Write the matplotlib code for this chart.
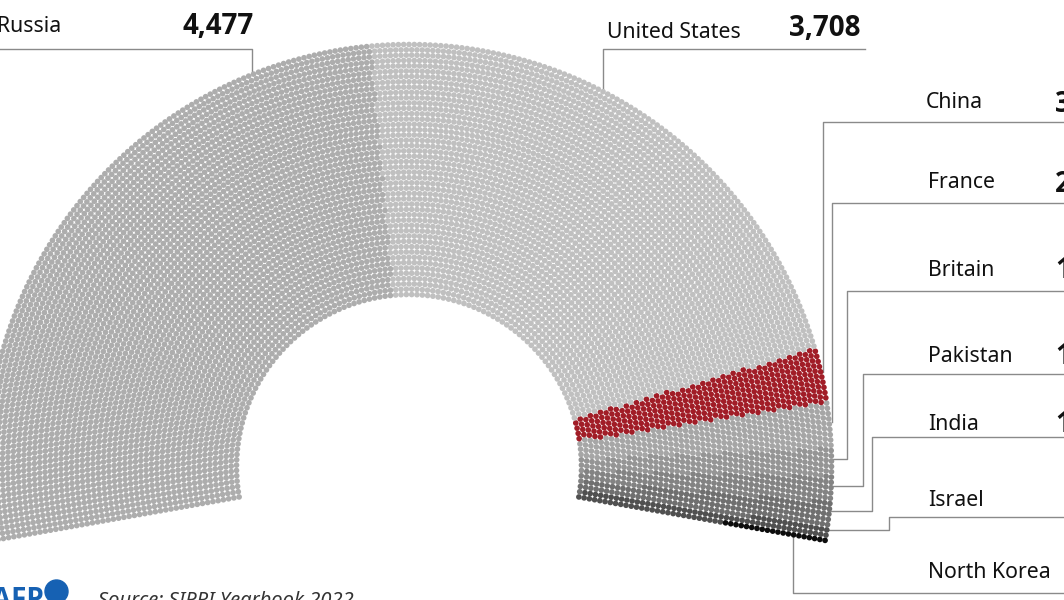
import numpy as np
import matplotlib
matplotlib.use("Agg")
import matplotlib.pyplot as plt
from matplotlib.patches import Circle

# ---- data ----
countries = ["North Korea", "Israel", "India", "Pakistan", "Britain", "France",
             "China", "United States", "Russia"]
warheads = [20, 90, 160, 165, 180, 290, 350, 3708, 4477]
value_labels = ["20", "90", "160", "165", "180", "290", "350", "3,708", "4,477"]
colors = ["#0d0d0d", "#505050", "#6f6f6f", "#838383", "#959595", "#a6a6a6",
          "#a11d27", "#c0c0c0", "#adadad"]
source_text = "Source: SIPRI Yearbook 2022"

# ---- figure ----
W, H = 1064, 600
fig = plt.figure(figsize=(W / 100, H / 100), dpi=100)
ax = fig.add_axes([0, 0, 1, 1])
ax.set_xlim(0, W)
ax.set_ylim(H, 0)
ax.axis("off")

FONT = "Noto Sans"
BFONT = "Open Sans"
plt.rcParams["font.family"] = FONT

# ---- parliament-style dot layout ----
cx, cy = 409, 467
r_in, r_out = 172.5, 422.5
R_edge = 425.0
a0, a1 = np.deg2rad(-10), np.deg2rad(190)
n_rows = 48
N = int(sum(warheads))
radii = np.linspace(r_in, r_out, n_rows)
ideal = N * radii / radii.sum()
counts = np.floor(ideal).astype(int)
rem = N - counts.sum()
counts[np.argsort(-(ideal - counts))[:rem]] += 1

angles, rs = [], []
for r, n in zip(radii, counts):
    angles.append(np.linspace(a0, a1, n))
    rs.append(np.full(n, r))
angles = np.concatenate(angles)
rs = np.concatenate(rs)
order = np.lexsort((-rs, angles))
party = np.repeat(np.arange(len(warheads)), warheads)
col = np.empty(N, dtype=object)
col[order] = [colors[p] for p in party]

px = cx + rs * np.cos(angles)
py = cy - rs * np.sin(angles)
pitch = (r_out - r_in) / (n_rows - 1)
d_pt = 1.06 * pitch * 72 / 100
ax.scatter(px, py, s=d_pt ** 2, c=list(col), linewidths=0, zorder=3)

# ---- leader lines and labels ----
cum = np.concatenate([[0], np.cumsum(warheads)])
mid = a0 + (a1 - a0) * (cum[:-1] + cum[1:]) / 2 / N
LC = "#8a8a8a"
LW = 1.0


def edge_y(x):
    return cy - np.sqrt(R_edge ** 2 - (x - cx) ** 2)


def label(name_x, name_y, val_x, val_y, i, val_ha="right"):
    ax.text(name_x, name_y, countries[i], fontsize=15.3, color="#111111",
            ha="left", va="center", family=FONT)
    ax.text(val_x, val_y, value_labels[i], fontsize=20, fontweight="bold",
            color="#111111", ha=val_ha, va="center", family=BFONT)


# Russia
xr = 252
ax.plot([0, xr, xr], [49, 49, edge_y(xr)], color=LC, lw=LW, zorder=1)
label(-3, 26, 254, 26, 8)
# United States
xu = 603
ax.plot([865, xu, xu], [49, 49, edge_y(xu)], color=LC, lw=LW, zorder=1)
label(607, 32, 861, 29, 7)

VAL_X = 1103
# China, France: vertical leader to wedge middle
for i, ly, ty in [(6, 122, 103), (5, 203, 183)]:
    x = cx + R_edge * np.cos(mid[i])
    ax.plot([W, x, x], [ly, ly, cy - R_edge * np.sin(mid[i])], color=LC, lw=LW, zorder=1)
    label(926 if i == 6 else 928, ty, VAL_X, ty + 1, i)

# Britain, Pakistan, India, Israel: elbow leaders
for i, ex, ly, ty in [(4, 847, 291, 270), (3, 863, 374, 356), (2, 872, 437, 424), (1, 889, 517, 500)]:
    axp = cx + (R_edge - 4) * np.cos(mid[i])
    ayp = cy - (R_edge - 4) * np.sin(mid[i])
    ax.plot([W, ex, ex, axp], [ly, ly, ayp, ayp], color=LC, lw=LW, zorder=1)
    label(928, ty, VAL_X, ty, i)

# North Korea: from bottom edge
xn = 793
yn = cy + (xn - cx) * np.tan(-a0)
ax.plot([xn, xn, W], [yn, 593, 593], color=LC, lw=LW, zorder=1)
label(928, 572, VAL_X, 572, 0)

# ---- footer ----
ax.text(98, 601, source_text, fontsize=14.5, style="italic", color="#333333",
        ha="left", va="center", family=FONT)
ax.text(44, 600, "AFP", fontsize=20, fontweight="bold", color="#1661b3",
        ha="right", va="center", family=BFONT)
ax.add_patch(Circle((56.5, 591.5), 11.5, color="#1661b3", zorder=4))

fig.savefig("out.png", dpi=100)
